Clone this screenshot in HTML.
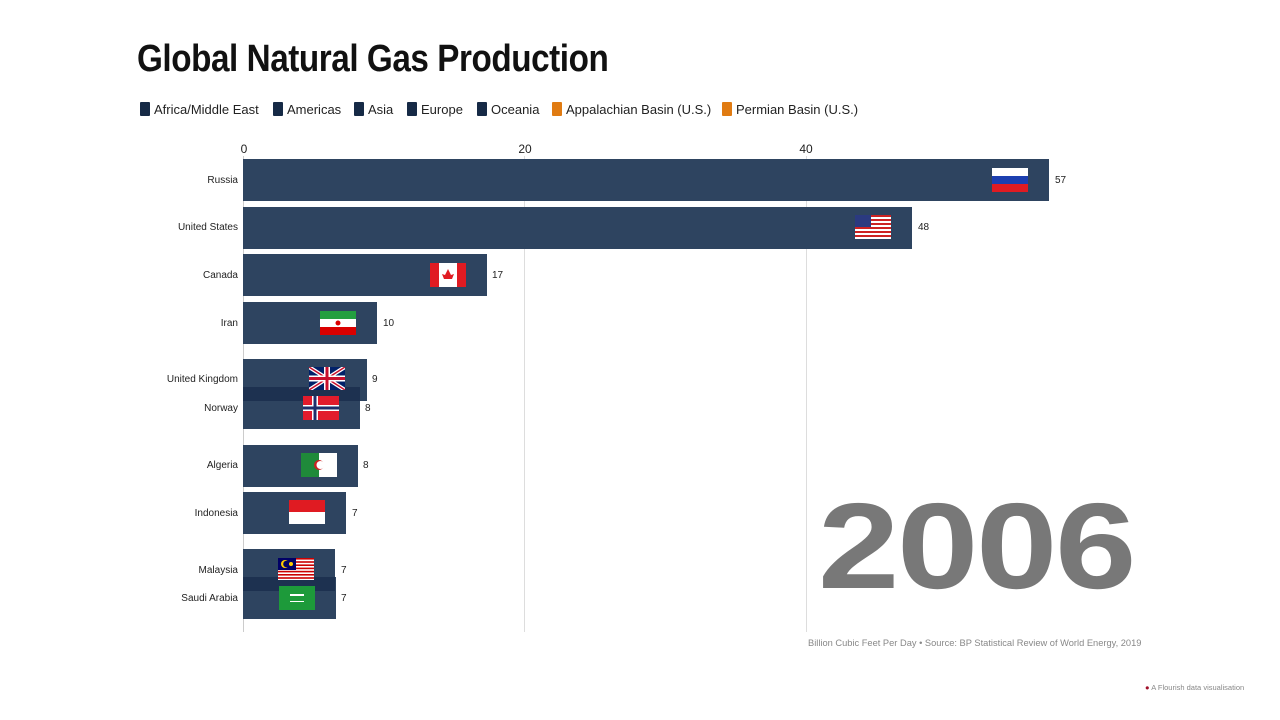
<!DOCTYPE html>
<html><head><meta charset="utf-8"><style>
body{margin:0;width:1280px;height:720px;background:#fff;position:relative;overflow:hidden;font-family:"Liberation Sans",sans-serif;}
.a{position:absolute;}
.title{left:137px;top:38px;font-size:38px;font-weight:bold;color:#111;transform:scaleX(0.875);transform-origin:left top;white-space:nowrap;letter-spacing:-0.5px}
.leg{top:102px;font-size:13px;color:#222;white-space:nowrap}
.sw{display:inline-block;width:10px;height:14px;vertical-align:-2px;margin-right:4px;border-radius:1px}
.grid{width:1px;background:#ddd;top:156px;height:476px}
.tick{top:142px;font-size:12px;color:#222;transform:translateX(-50%)}
.bar{background:#2e4460;height:42px;left:243px}
.lab{font-size:10px;color:#222;text-align:right;width:200px;left:38px}
.val{font-size:10px;color:#222}
svg{position:absolute}
</style></head><body>
<div class="a title">Global Natural Gas Production</div>
<div class="a leg" style="left:140px"><span class="sw" style="background:#162a46"></span>Africa/Middle East</div>
<div class="a leg" style="left:273px"><span class="sw" style="background:#162a46"></span>Americas</div>
<div class="a leg" style="left:354px"><span class="sw" style="background:#162a46"></span>Asia</div>
<div class="a leg" style="left:407px"><span class="sw" style="background:#162a46"></span>Europe</div>
<div class="a leg" style="left:477px"><span class="sw" style="background:#162a46"></span>Oceania</div>
<div class="a leg" style="left:552px"><span class="sw" style="background:#e07b12"></span>Appalachian Basin (U.S.)</div>
<div class="a leg" style="left:722px"><span class="sw" style="background:#e07b12"></span>Permian Basin (U.S.)</div>

<div class="a grid" style="left:243px;background:#ccc"></div>
<div class="a grid" style="left:524px"></div>
<div class="a grid" style="left:806px"></div>
<div class="a tick" style="left:244px">0</div>
<div class="a tick" style="left:525px">20</div>
<div class="a tick" style="left:806px">40</div>

<div class="a bar" style="top:159px;width:806px"></div>
<div class="a bar" style="top:207px;width:669px"></div>
<div class="a bar" style="top:254px;width:244px"></div>
<div class="a bar" style="top:302px;width:134px"></div>
<div class="a bar" style="top:359px;width:124px"></div>
<div class="a bar" style="top:387px;width:117px"></div>
<div class="a" style="left:243px;top:387px;width:117px;height:14px;background:#1d3150"></div>
<div class="a bar" style="top:445px;width:115px"></div>
<div class="a bar" style="top:492px;width:103px"></div>
<div class="a bar" style="top:549px;width:92px"></div>
<div class="a bar" style="top:577px;width:93px"></div>
<div class="a" style="left:243px;top:577px;width:92px;height:14px;background:#1d3150"></div>

<div class="a lab" style="top:175px">Russia</div>
<div class="a lab" style="top:222px">United States</div>
<div class="a lab" style="top:270px">Canada</div>
<div class="a lab" style="top:318px">Iran</div>
<div class="a lab" style="top:374px">United Kingdom</div>
<div class="a lab" style="top:403px">Norway</div>
<div class="a lab" style="top:460px">Algeria</div>
<div class="a lab" style="top:508px">Indonesia</div>
<div class="a lab" style="top:565px">Malaysia</div>
<div class="a lab" style="top:593px">Saudi Arabia</div>

<div class="a val" style="left:1055px;top:175px">57</div>
<div class="a val" style="left:918px;top:222px">48</div>
<div class="a val" style="left:492px;top:270px">17</div>
<div class="a val" style="left:383px;top:318px">10</div>
<div class="a val" style="left:372px;top:374px">9</div>
<div class="a val" style="left:365px;top:403px">8</div>
<div class="a val" style="left:363px;top:460px">8</div>
<div class="a val" style="left:352px;top:508px">7</div>
<div class="a val" style="left:341px;top:565px">7</div>
<div class="a val" style="left:341px;top:593px">7</div>

<svg style="left:992px;top:168px" width="36" height="24"><rect width="36" height="8" fill="#fff"/><rect y="8" width="36" height="8" fill="#1c3fb0"/><rect y="16" width="36" height="8" fill="#e01b22"/></svg>
<svg style="left:855px;top:215px" width="36" height="24"><rect width="36" height="24" fill="#fff"/><g fill="#c22"><rect y="0" width="36" height="2"/><rect y="4" width="36" height="2"/><rect y="8" width="36" height="2"/><rect y="12" width="36" height="2"/><rect y="16" width="36" height="2"/><rect y="20" width="36" height="2"/></g><rect width="16" height="12" fill="#2b3a80"/></svg>
<svg style="left:430px;top:263px" width="36" height="24"><rect width="36" height="24" fill="#fff"/><rect width="9" height="24" fill="#e01b22"/><rect x="27" width="9" height="24" fill="#e01b22"/><path d="M18 6 L21 12 L24 11 L22 16 L14 16 L12 11 L15 12Z" fill="#e01b22"/></svg>
<svg style="left:320px;top:311px" width="36" height="24"><rect width="36" height="8" fill="#239f40"/><rect y="8" width="36" height="8" fill="#fff"/><rect y="16" width="36" height="8" fill="#da0000"/><circle cx="18" cy="12" r="2.5" fill="#da0000"/></svg>
<svg style="left:309px;top:367px" width="36" height="23"><rect width="36" height="23" fill="#012169"/><path d="M0 0L36 23M36 0L0 23" stroke="#fff" stroke-width="4"/><path d="M0 0L36 23M36 0L0 23" stroke="#c8102e" stroke-width="1.5"/><rect x="15" width="6" height="23" fill="#fff"/><rect y="8.5" width="36" height="6" fill="#fff"/><rect x="16.5" width="3" height="23" fill="#c8102e"/><rect y="10" width="36" height="3" fill="#c8102e"/></svg>
<svg style="left:303px;top:396px" width="36" height="24"><rect width="36" height="24" fill="#e21c2c"/><rect x="9" width="6" height="24" fill="#fff"/><rect y="9" width="36" height="6" fill="#fff"/><rect x="10.5" width="3" height="24" fill="#1f2f6b"/><rect y="10.5" width="36" height="3" fill="#1f2f6b"/></svg>
<svg style="left:301px;top:453px" width="36" height="24"><rect width="18" height="24" fill="#1f8a3a"/><rect x="18" width="18" height="24" fill="#fff"/><circle cx="18" cy="12" r="5" fill="#c22"/><circle cx="19.5" cy="12" r="4" fill="#fff"/></svg>
<svg style="left:289px;top:500px" width="36" height="24"><rect width="36" height="12" fill="#e01b22"/><rect y="12" width="36" height="12" fill="#fff"/></svg>
<svg style="left:278px;top:558px" width="36" height="22"><rect width="36" height="22" fill="#fff"/><g fill="#cc0001"><rect y="0" width="36" height="1.6"/><rect y="3.2" width="36" height="1.6"/><rect y="6.4" width="36" height="1.6"/><rect y="9.6" width="36" height="1.6"/><rect y="12.8" width="36" height="1.6"/><rect y="16" width="36" height="1.6"/><rect y="19.2" width="36" height="1.6"/></g><rect width="18" height="12" fill="#010066"/><circle cx="7" cy="6" r="4" fill="#fc0"/><circle cx="8.5" cy="6" r="3.3" fill="#010066"/><circle cx="13" cy="6" r="2" fill="#fc0"/></svg>
<svg style="left:279px;top:586px" width="36" height="24"><rect width="36" height="24" fill="#1d9a3a"/><rect x="11" y="8" width="14" height="2" fill="#fff"/><rect x="11" y="15" width="14" height="1" fill="#fff"/></svg>

<div class="a" style="left:818px;top:476px;font-size:122px;font-weight:bold;color:#787878;letter-spacing:-2px;transform:scaleX(1.2);transform-origin:left top;line-height:140px">2006</div>
<div class="a" style="left:808px;top:638px;font-size:9.3px;color:#888;white-space:nowrap">Billion Cubic Feet Per Day • Source: BP Statistical Review of World Energy, 2019</div>
<div class="a" style="left:1145px;top:683px;font-size:7.5px;color:#888"><span style="color:#a0102a">●</span> A Flourish data visualisation</div>
</body></html>
